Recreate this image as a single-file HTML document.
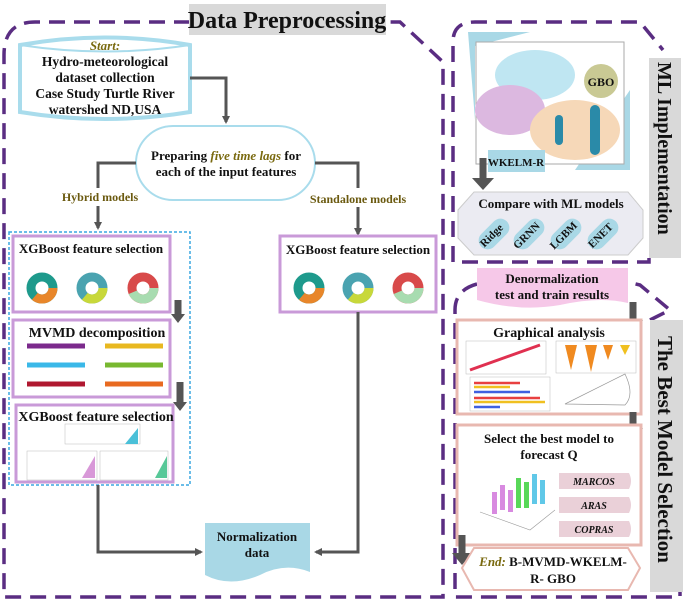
<!DOCTYPE html>
<html><head><meta charset="utf-8"><style>
body{margin:0;background:#fff}
svg{display:block}
text{font-family:"Liberation Serif",serif;font-weight:bold;fill:#111}
</style></head><body>
<svg width="685" height="600" viewBox="0 0 685 600" xmlns="http://www.w3.org/2000/svg">
<defs>
<marker id="ah" markerWidth="8" markerHeight="8" refX="6" refY="4" orient="auto" markerUnits="userSpaceOnUse"><path d="M0,0 L8,4 L0,8 z" fill="#555"/></marker>
</defs>
<path d="M190,22 L35,22 Q4,22 4,55 L4,597 L443,597 L443,62 L400,22 L386,22" fill="none" stroke="#5a2d82" stroke-width="3.5" stroke-dasharray="16,9"/>
<rect x="189" y="4" width="197" height="31" fill="#d9d9d9"/>
<text x="287" y="28" font-size="24" text-anchor="middle">Data Preprocessing</text>

<path d="M20,45 Q105,30 190,45 L190,112 Q105,126 20,112 Z" fill="#fff" stroke="#a9dcec" stroke-width="4"/>
<path d="M20,45 Q105,58 190,45" fill="none" stroke="#a9dcec" stroke-width="2"/>
<text x="105" y="50" font-size="13" text-anchor="middle" font-style="italic" style="fill:#7a6a10">Start:</text>
<text x="105" y="66" font-size="13.5" text-anchor="middle">Hydro-meteorological</text>
<text x="105" y="82" font-size="13.5" text-anchor="middle">dataset collection</text>
<text x="105" y="98" font-size="13.5" text-anchor="middle">Case Study Turtle River</text>
<text x="105" y="114" font-size="13.5" text-anchor="middle">watershed ND,USA</text>
<path d="M190,78 L226,78 L226,122" fill="none" stroke="#555" stroke-width="3" marker-end="url(#ah)"/>

<rect x="136" y="126" width="179" height="74" rx="37" fill="#fff" stroke="#a9dcec" stroke-width="2"/>
<text x="226" y="160" font-size="13" text-anchor="middle">Preparing <tspan font-style="italic" style="fill:#7a6a10">five time lags</tspan> for</text>
<text x="226" y="176" font-size="13" text-anchor="middle">each of the input features</text>
<path d="M136,163 L98,163 L98,188" fill="none" stroke="#555" stroke-width="3"/>
<path d="M315,163 L358,163 L358,188" fill="none" stroke="#555" stroke-width="3"/>
<text x="100" y="201" font-size="12" text-anchor="middle" style="fill:#6b5a10">Hybrid models</text>
<text x="358" y="203" font-size="12" text-anchor="middle" style="fill:#6b5a10">Standalone models</text>
<path d="M98,206 L98,228" stroke="#555" stroke-width="3" marker-end="url(#ah)"/>
<path d="M358,207 L358,234" stroke="#555" stroke-width="3" marker-end="url(#ah)"/>

<rect x="9" y="232" width="181" height="253" fill="none" stroke="#3aa7e0" stroke-width="1.5" stroke-dasharray="3,2"/>
<g stroke="#c99ad8" stroke-width="3" fill="#fff">
<rect x="13" y="236" width="157" height="76"/>
<rect x="13" y="320" width="157" height="77"/>
<rect x="16" y="405" width="157" height="77"/>
<rect x="280" y="236" width="156" height="76"/>
</g>
<text x="91" y="253" font-size="13" text-anchor="middle">XGBoost feature selection</text>
<text x="97" y="337" font-size="14" text-anchor="middle">MVMD decomposition</text>
<text x="96" y="421" font-size="14" text-anchor="middle">XGBoost feature selection</text>
<text x="358" y="254" font-size="13" text-anchor="middle">XGBoost feature selection</text>
<g fill="none" stroke-width="9">
<circle cx="42" cy="288" r="11" stroke="#1e9a8c"/><circle cx="42" cy="288" r="11" stroke="#e8862a" stroke-dasharray="25,60"/>
<circle cx="92" cy="288" r="11" stroke="#4aa3b0"/><circle cx="92" cy="288" r="11" stroke="#c8d83a" stroke-dasharray="25,60"/>
<circle cx="143" cy="288" r="11" stroke="#d84a4a"/><circle cx="143" cy="288" r="11" stroke="#a8dcb0" stroke-dasharray="30,60"/>
<circle cx="309" cy="288" r="11" stroke="#1e9a8c"/><circle cx="309" cy="288" r="11" stroke="#e8862a" stroke-dasharray="25,60"/>
<circle cx="358" cy="288" r="11" stroke="#4aa3b0"/><circle cx="358" cy="288" r="11" stroke="#c8d83a" stroke-dasharray="25,60"/>
<circle cx="408" cy="288" r="11" stroke="#d84a4a"/><circle cx="408" cy="288" r="11" stroke="#a8dcb0" stroke-dasharray="30,60"/>
</g>
<g stroke-width="5">
<line x1="27" y1="346" x2="85" y2="346" stroke="#7b2a8c"/><line x1="105" y1="346" x2="163" y2="346" stroke="#e8b820"/>
<line x1="27" y1="365" x2="85" y2="365" stroke="#3ab8e8"/><line x1="105" y1="365" x2="163" y2="365" stroke="#78b830"/>
<line x1="27" y1="384" x2="85" y2="384" stroke="#b01830"/><line x1="105" y1="384" x2="163" y2="384" stroke="#e86a20"/>
</g>
<rect x="65" y="424" width="75" height="20" fill="#fff" stroke="#bbb" stroke-width=".5"/>
<path d="M125,444 L138,428 L138,444 Z" fill="#4ac0d8"/>
<rect x="27" y="451" width="70" height="29" fill="#fff" stroke="#bbb" stroke-width=".5"/>
<path d="M82,478 L95,456 L95,478 Z" fill="#d898d8"/>
<rect x="100" y="451" width="68" height="29" fill="#fff" stroke="#bbb" stroke-width=".5"/>
<path d="M155,478 L167,456 L167,478 Z" fill="#58c898"/>
<path d="M178,300 L178,316" stroke="#555" stroke-width="7"/><path d="M171,314 L185,314 L178,323 Z" fill="#555"/>
<path d="M180,382 L180,404" stroke="#555" stroke-width="7"/><path d="M173,402 L187,402 L180,411 Z" fill="#555"/>

<path d="M98,485 L98,552 L201,552" fill="none" stroke="#555" stroke-width="3" marker-end="url(#ah)"/>
<path d="M358,312 L358,552 L316,552" fill="none" stroke="#555" stroke-width="3" marker-end="url(#ah)"/>
<path d="M205,523 L310,523 L310,572 Q285,562 260,575 Q230,588 205,575 Z" fill="#a9d8e6"/>
<text x="257" y="541" font-size="13" text-anchor="middle">Normalization</text>
<text x="257" y="557" font-size="13" text-anchor="middle">data</text>

<path d="M649,258 L649,262 L453,262 L453,42 Q453,22 475,22 L640,22 L663,50" fill="none" stroke="#5a2d82" stroke-width="3.5" stroke-dasharray="16,9"/>
<rect x="649" y="58" width="32" height="200" fill="#d9d9d9"/>
<text font-size="20" transform="translate(658,62) rotate(90)">ML Implementation</text>
<path d="M468,32 L530,32 L475,46 L475,120 Z" fill="#a9d8e6"/>
<path d="M630,90 L630,170 L575,170 Z" fill="#a9d8e6"/>
<rect x="476" y="42" width="148" height="122" fill="#fff" stroke="#aaa"/>
<ellipse cx="535" cy="75" rx="40" ry="25" fill="#bfe6f2"/>
<ellipse cx="510" cy="110" rx="35" ry="25" fill="#dcb8e0"/>
<ellipse cx="575" cy="130" rx="45" ry="30" fill="#f6d8b8"/>
<circle cx="601" cy="81" r="17" fill="#c9c994"/>
<text x="601" y="86" font-size="12" text-anchor="middle">GBO</text>
<rect x="590" y="105" width="10" height="50" rx="5" fill="#2a8aa8"/>
<rect x="555" y="115" width="8" height="30" rx="4" fill="#2a8aa8"/>
<rect x="488" y="150" width="57" height="22" fill="#a9d8e6"/>
<text x="516" y="166" font-size="11" text-anchor="middle">WKELM-R</text>
<path d="M483,158 L483,180" stroke="#555" stroke-width="7"/><path d="M472,178 L494,178 L483,190 Z" fill="#555"/>
<path d="M474,192 L628,192 L643,210 L643,238 L628,255 L474,255 L458,238 L458,210 Z" fill="#ebebf2" stroke="#ccc"/>
<text x="551" y="208" font-size="13" text-anchor="middle">Compare with ML models</text>
<g fill="#a9d8e6">
<rect x="-18" y="-9" width="36" height="18" rx="9" transform="translate(494,234) rotate(-45)"/>
<rect x="-18" y="-9" width="36" height="18" rx="9" transform="translate(529,234) rotate(-45)"/>
<rect x="-18" y="-9" width="36" height="18" rx="9" transform="translate(566,234) rotate(-45)"/>
<rect x="-18" y="-9" width="36" height="18" rx="9" transform="translate(603,234) rotate(-45)"/>
</g>
<g font-size="11" text-anchor="middle">
<text transform="translate(494,238) rotate(-45)">Ridge</text>
<text transform="translate(529,238) rotate(-45)">GRNN</text>
<text transform="translate(566,238) rotate(-45)">LGBM</text>
<text transform="translate(603,238) rotate(-45)">ENET</text>
</g>

<path d="M477,284 Q455,290 455,310 L455,597 L680,597 L680,592 M650,320 L670,310 L640,285 L628,282" fill="none" stroke="#5a2d82" stroke-width="3.5" stroke-dasharray="16,9"/>
<path d="M477,268 L628,268 L628,303 Q600,296 560,305 Q520,312 477,300 Z" fill="#f6c8e8"/>
<text x="552" y="283" font-size="13" text-anchor="middle">Denormalization</text>
<text x="552" y="299" font-size="13" text-anchor="middle">test and train results</text>
<rect x="650" y="320" width="33" height="272" fill="#d9d9d9"/>
<text font-size="21" transform="translate(658,336) rotate(90)">The Best Model Selection</text>
<path d="M633,302 L633,322" stroke="#555" stroke-width="7"/><path d="M623,320 L643,320 L633,332 Z" fill="#555"/>
<rect x="457" y="320" width="184" height="94" fill="#fff" stroke="#e8b8b0" stroke-width="3"/>
<text x="549" y="337" font-size="14" text-anchor="middle">Graphical analysis</text>
<rect x="466" y="341" width="80" height="33" fill="#fff" stroke="#bbb" stroke-width=".5"/>
<line x1="470" y1="370" x2="540" y2="345" stroke="#e03050" stroke-width="3"/>
<rect x="556" y="341" width="80" height="32" fill="#fff" stroke="#bbb" stroke-width=".5"/>
<g fill="#f08a20"><path d="M565,345 L577,345 L571,370 Z"/><path d="M585,345 L597,345 L591,372 Z"/><path d="M603,345 L613,345 L608,360 Z"/><path d="M620,345 L630,345 L625,355 Z" fill="#f0c020"/></g>
<rect x="470" y="377" width="80" height="34" fill="#fff" stroke="#bbb" stroke-width=".5"/>
<g stroke-width="2.5"><line x1="474" y1="383" x2="520" y2="383" stroke="#e84040"/><line x1="474" y1="387" x2="510" y2="387" stroke="#f0c020"/><line x1="474" y1="392" x2="530" y2="392" stroke="#4060e0"/><line x1="474" y1="398" x2="540" y2="398" stroke="#e84040"/><line x1="474" y1="402" x2="545" y2="402" stroke="#f0c020"/><line x1="474" y1="407" x2="500" y2="407" stroke="#4060e0"/></g>
<path d="M565,404 L625,374 Q635,395 625,405 Z" fill="none" stroke="#999" stroke-width=".7"/>
<path d="M633,412 L633,430" stroke="#555" stroke-width="7"/><path d="M623,428 L643,428 L633,440 Z" fill="#555"/>
<rect x="457" y="425" width="184" height="120" fill="#fff" stroke="#e8b8b0" stroke-width="3"/>
<text x="549" y="443" font-size="13" text-anchor="middle">Select the best model  to</text>
<text x="549" y="459" font-size="13" text-anchor="middle">forecast Q</text>
<g>
<path d="M480,512 L530,530 L555,510" fill="none" stroke="#999" stroke-width=".6"/>
<rect x="500" y="485" width="5" height="25" fill="#d88ae0"/><rect x="508" y="490" width="5" height="22" fill="#d88ae0"/>
<rect x="516" y="478" width="5" height="30" fill="#58d858"/><rect x="524" y="482" width="5" height="26" fill="#58d858"/>
<rect x="532" y="474" width="5" height="30" fill="#60c8e8"/><rect x="540" y="480" width="5" height="24" fill="#60c8e8"/>
<rect x="492" y="492" width="5" height="22" fill="#d88ae0"/>
</g>
<g fill="#ead0d8">
<path d="M559,473 L629,473 Q633,481 629,489 L559,489 Z"/>
<path d="M559,497 L629,497 Q633,505 629,513 L559,513 Z"/>
<path d="M559,521 L629,521 Q633,529 629,537 L559,537 Z"/>
</g>
<g font-size="10" font-style="italic" text-anchor="middle">
<text x="594" y="485">MARCOS</text><text x="594" y="509">ARAS</text><text x="594" y="533">COPRAS</text>
</g>
<path d="M462,535 L462,555" stroke="#555" stroke-width="7"/><path d="M452,553 L472,553 L462,565 Z" fill="#555"/>
<path d="M474,548 L628,548 L640,568 L628,590 L474,590 L462,568 Z" fill="#fff" stroke="#e8b8b0" stroke-width="2"/>
<text x="553" y="566" font-size="13" text-anchor="middle"><tspan font-style="italic" style="fill:#7a6a10">End:</tspan> B-MVMD-WKELM-</text>
<text x="553" y="583" font-size="13" text-anchor="middle">R- GBO</text>
</svg>
</body></html>
